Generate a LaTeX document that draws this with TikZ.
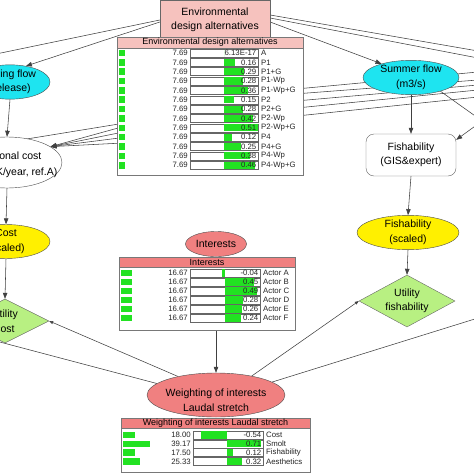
\documentclass[tikz,border=0pt]{standalone}
\usepackage{fontspec}
\setmainfont{Liberation Sans}
\usetikzlibrary{shapes.geometric,arrows.meta}
\definecolor{envpink}{RGB}{246,194,190}
\definecolor{salmon}{RGB}{240,128,128}
\definecolor{cyanf}{RGB}{30,228,240}
\definecolor{yellowf}{RGB}{255,240,0}
\definecolor{dgreen}{RGB}{184,240,130}
\definecolor{bargreen}{RGB}{34,226,34}
\definecolor{edgegray}{RGB}{120,120,120}
\pgfdeclarelayer{bg}
\pgfsetlayers{bg,main}
\tikzset{
  nodefont/.style={font=\fontsize{10.5}{14.5}\selectfont, align=center},
  ellnode/.style={ellipse, draw=black!70, nodefont, inner sep=0pt},
  diamnode/.style={diamond, draw=black!60, fill=dgreen, nodefont, inner sep=0pt},
  link/.style={draw=black!75, line width=0.55pt},
  arr/.style={link, -{Triangle[length=6pt,width=4.5pt]}},
  arrs/.style={link, -{Triangle[length=4pt,width=3pt]}},
  tabbox/.style={draw=edgegray, fill=white, inner sep=0pt, line width=0.6pt},
  titlefont/.style={font=\fontsize{9}{10}\selectfont, inner sep=0pt},
  rowfont/.style={font=\fontsize{7.8}{8}\selectfont, inner sep=0pt, text=black!85},
  gbar/.style={fill=bargreen},
  vbox/.style={draw=black!60, fill=white, line width=0.5pt},
  tbar/.style={draw=edgegray, line width=0.6pt},
}
\begin{document}
\begin{tikzpicture}[x=1pt,y=-1pt]
\useasboundingbox (0,0) rectangle (474,474);
\clip (0,0) rectangle (474,474);

% ---------- free ends ----------
\coordinate (L1) at (-4,54);
\coordinate (L2) at (-4,144);
\coordinate (L3) at (-4,341);
\coordinate (R1) at (478,51);
\coordinate (R2) at (478,58);
\coordinate (R3) at (478,72);
\coordinate (R4) at (478,80);
\coordinate (R5) at (478,85);
\coordinate (R6) at (478,90);
\coordinate (R7) at (478,97);
\coordinate (R8) at (478,118);
\coordinate (R9) at (478,124);
\coordinate (R10) at (478,318);

% ---------- main nodes ----------
\node[draw=black!60, fill=envpink, minimum width=110pt, minimum height=40pt, nodefont, inner sep=0pt] (env) at (215,20) {Environmental\\design alternatives};

\node[ellnode, fill=cyanf, minimum width=80pt, minimum height=34pt] (spring) at (10,82) {Spring flow\\(release)};
\node[ellnode, fill=white, minimum width=110pt, minimum height=51pt] (opcost) at (7,162.5) {};
\node[nodefont, inner sep=0pt, anchor=east] (opcostA) at (41.5,157) {Operational cost};
\node[nodefont, inner sep=0pt, anchor=east] (opcostB) at (57.5,173) {(NOK/year, ref.A)};
\node[ellnode, fill=yellowf, minimum width=88pt, minimum height=31pt] (cost) at (6,241.5) {Cost\\(scaled)};
\node[diamnode, aspect=2, minimum width=88pt, minimum height=44pt] (ucost) at (5,321) {Utility\\cost};

\node[ellnode, fill=cyanf, minimum width=96pt, minimum height=31pt] (summer) at (411,77.5) {Summer flow\\(m3/s)};
\node[draw=black!60, fill=white, rounded corners=8pt, minimum width=90pt, minimum height=42pt, nodefont, inner sep=0pt] (fishgis) at (411,155) {Fishability\\(GIS\&expert)};
\node[ellnode, fill=yellowf, minimum width=102pt, minimum height=31pt] (fishsc) at (408,232.5) {Fishability\\(scaled)};
\node[diamnode, aspect=1.85, minimum width=96pt, minimum height=52pt] (ufish) at (407,301) {Utility\\fishability};

\node[ellnode, fill=salmon, minimum width=61pt, minimum height=25pt] (interests) at (216,244) {Interests};
\node[ellnode, fill=salmon, minimum width=138pt, minimum height=44pt] (weight) at (216,395) {};
\node[nodefont, inner sep=0pt] (weighttxt) at (216,400) {Weighting of interests\\Laudal stretch};

% ---------- table: environmental design alternatives ----------
\node[tabbox, anchor=north west, minimum width=186pt, minimum height=138pt] (envtab) at (117,37) {};
\draw[tbar, fill=envpink] (117,37) rectangle (303,48);
\node[titlefont] (envtitle) at (210,42.5) {Environmental design alternatives};
\foreach \i/\lab/\vs/\v in {0/A/6.13E-17/0, 1/P1/0.16/0.16, 2/P1+G/0.29/0.29, 3/P1-Wp/0.28/0.28, 4/P1-Wp+G/0.36/0.36, 5/P2/0.15/0.15, 6/P2+G/0.28/0.28, 7/P2-Wp/0.42/0.42, 8/P2-Wp+G/0.51/0.51, 9/P4/0.12/0.12, 10/P4+G/0.25/0.25, 11/P4-Wp/0.38/0.38, 12/P4-Wp+G/0.46/0.46}{
  \pgfmathsetmacro{\yy}{53+9.35*\i}
  \pgfmathsetmacro{\ww}{min(68*\v,33.5)}
  \fill[gbar] (119,\yy-3.3) rectangle (125,\yy+3.3);
  \node[rowfont, anchor=east] (envp\i) at (188,\yy) {7.69};
  \draw[vbox] (190,\yy-4) rectangle (258,\yy+4);
  \fill[gbar] (224,\yy-3.6) rectangle (224+\ww,\yy+3.6);
  \node[rowfont, anchor=east] (envv\i) at (256.5,\yy) {\vs};
  \node[rowfont, anchor=west] (envl\i) at (261,\yy) {\lab};
}

% ---------- table: interests ----------
\node[tabbox, anchor=north west, minimum width=176pt, minimum height=73pt] (inttab) at (119,257) {};
\draw[tbar, fill=salmon] (119,257) rectangle (295,267);
\node[titlefont] (inttitle) at (207,262) {Interests};
\foreach \i/\lab/\vs/\v in {0/Actor A/-0.04/-0.04, 1/Actor B/0.45/0.45, 2/Actor C/0.49/0.49, 3/Actor D/0.28/0.28, 4/Actor E/0.26/0.26, 5/Actor F/0.24/0.24}{
  \pgfmathsetmacro{\yy}{273+9*\i}
  \pgfmathsetmacro{\ww}{max(min(65*\v,34),-34)}
  \fill[gbar] (121,\yy-3.4) rectangle (132,\yy+3.4);
  \node[rowfont, anchor=east] (intp\i) at (188,\yy) {16.67};
  \draw[vbox] (190,\yy-4) rectangle (260,\yy+4);
  \fill[gbar] (225,\yy-3.6) rectangle (225+\ww,\yy+3.6);
  \node[rowfont, anchor=east] (intv\i) at (258.5,\yy) {\vs};
  \node[rowfont, anchor=west] (intl\i) at (263,\yy) {\lab};
}

% ---------- table: weighting ----------
\node[tabbox, anchor=north west, minimum width=189pt, minimum height=54pt] (wtab) at (121,418) {};
\draw[tbar, fill=salmon] (121,418) rectangle (310,428);
\node[titlefont] (wtitle) at (215.5,423) {Weighting of interests Laudal stretch};
\foreach \i/\lab/\ps/\p/\vs/\v in {0/Cost/18.00/18.00/-0.54/-0.54, 1/Smolt/39.17/39.17/0.71/0.71, 2/Fishability/17.50/17.50/0.12/0.12, 3/Aesthetics/25.33/25.33/0.32/0.32}{
  \pgfmathsetmacro{\yy}{435+8.8*\i}
  \pgfmathsetmacro{\ww}{max(min(48*\v,35),-35)}
  \pgfmathsetmacro{\lw}{0.68*\p}
  \fill[gbar] (123,\yy-3.3) rectangle (123+\lw,\yy+3.3);
  \node[rowfont, anchor=east] (wp\i) at (191,\yy) {\ps};
  \draw[vbox] (193,\yy-4) rectangle (263,\yy+4);
  \fill[gbar] (227,\yy-3.6) rectangle (227+\ww,\yy+3.6);
  \node[rowfont, anchor=east] (wv\i) at (261.5,\yy) {\vs};
  \node[rowfont, anchor=west] (wl\i) at (266,\yy) {\lab};
}

% ---------- connectors ----------
\begin{pgfonlayer}{bg}
\draw[link] (env.west) -- (L1);
\draw[arr] ([yshift=-2pt]env.west) -- (spring.45);
\draw[link] ([yshift=5pt]env.east) -- (R1);
\draw[link] ([yshift=2pt]env.east) -- (R2);
\draw[arr] ([yshift=-2pt]env.east) -- (summer.155);
\foreach \s/\r in {18/R3, 13/R4, 6/R5, -1/R6, -9/R7}{
  \draw[link] ([yshift=\s pt]envtab.east) -- (\r);
}
\draw[link] ([yshift=-18pt]envtab.west) -- (L2);
\foreach \s in {-22,-27,-32,-37}{
  \draw[arr] ([yshift=\s pt]envtab.west) -- (opcost.20);
}
\draw[arr] (spring.south) -- (opcost.north);
\draw[arr] (opcost.south) -- (cost.north);
\draw[arr] (cost.south) -- (ucost.north);
\draw[arr] (summer.south) -- (fishgis.north);
\draw[arr] (fishgis.south) -- (fishsc.north);
\draw[arr] (fishsc.south) -- (ufish.north);
\draw[link] (summer.-25) -- (R8);
\draw[arr] (R9) -- ([yshift=-6pt]fishgis.north east);
\draw[arr] (weight.north |- inttab.south) -- (weight.north);
\draw[arrs] (weight.154) -- (ucost.east);
\draw[link] (L3) -- (weight.169);
\draw[arrs] (weight.28) -- (ufish.west);
\draw[link] (R10) -- (weight.13);
\end{pgfonlayer}
\end{tikzpicture}
\end{document}
